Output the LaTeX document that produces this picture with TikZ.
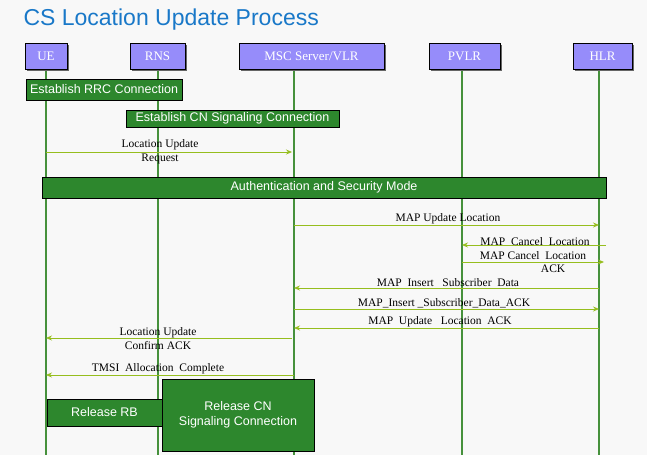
\documentclass[tikz,border=0pt]{standalone}
\usepackage{fontspec}
\setmainfont{Liberation Serif}
\setsansfont{Liberation Sans}
\begin{document}
\begin{tikzpicture}[x=1pt,y=-1pt,
  hdr/.style={draw=black,fill=hdrc,minimum height=26pt,inner sep=0pt,font=\rmfamily\fontsize{13}{12}\selectfont,text=white},
  gbox/.style={draw=black,fill=boxg,inner sep=0pt,font=\sffamily\fontsize{12.5}{15}\selectfont,text=white,align=center},
  life/.style={draw=lifeg,line width=1.3pt},
  msg/.style={draw=arrg,line width=0.8pt,-{Stealth[length=6pt,width=5pt]}},
  lbl/.style={font=\rmfamily\fontsize{11.5}{12}\selectfont,align=center,inner sep=0pt}]
\usetikzlibrary{arrows.meta}
\definecolor{hdrc}{RGB}{150,140,250}
\definecolor{boxg}{RGB}{45,135,45}
\definecolor{lifeg}{RGB}{70,145,60}
\definecolor{arrg}{RGB}{150,190,30}
\definecolor{bg}{RGB}{248,248,248}
\definecolor{ttl}{RGB}{25,120,200}
\fill[bg] (0,0) rectangle (647,455);
\useasboundingbox (0,0) rectangle (647,455);
\node[anchor=west,text=ttl,font=\sffamily\fontsize{23}{23}\selectfont] (title) at (20,20) {CS Location Update Process};
% lifelines
\foreach \n/\x in {ue/46,rns/158,msc/294,pvlr/462,hlr/599}{
  \coordinate (\n top) at (\x,69); \coordinate (\n bot) at (\x,455);
  \draw[life] (\n top) -- (\n bot);}
% headers
\foreach \n/\a/\b/\t in {ue/25/67/UE,rns/130/185/RNS,msc/239/384/{MSC Server/VLR},pvlr/429/500/PVLR,hlr/573/632/HLR}{
  \fill[black!60] (\a+2,45) rectangle (\b+2,71);
  \node[hdr,minimum width=\b-\a] (h\n) at ({(\a+\b)/2},56) {\t};}
% boxes
\node[gbox,minimum width=156,minimum height=21] (rrc) at (104,89.5) {Establish RRC Connection};
\node[gbox,minimum width=213,minimum height=17] (cn) at (232.5,118.5) {Establish CN Signaling Connection};
\node[gbox,minimum width=564,minimum height=21] (auth) at (324,187.5) {Authentication and Security Mode};
\node[gbox,minimum width=115,minimum height=27] (rb) at (104.5,412.5) {Release RB};
\node[gbox,minimum width=152,minimum height=72] (rcn) at (238,415) {Release CN\\Signaling Connection};
% messages
\coordinate (a1s) at (46,152); \coordinate (a1e) at (292,152);
\draw[msg] (a1s) -- (a1e);
\node[lbl] (l1) at (160,152) {Location Update\\[2pt]Request};
\coordinate (a2s) at (294,225); \coordinate (a2e) at (599,225);
\draw[msg] (a2s) -- (a2e); \node[lbl,anchor=south] (l2) at (448,224) {MAP Update Location};
\coordinate (a3s) at (606,245); \coordinate (a3e) at (462,245);
\draw[msg] (a3s) -- (a3e); \node[lbl,anchor=south] (l3) at (535,246) {MAP\ \ Cancel\ \ Location};
\coordinate (a4s) at (462,262); \coordinate (a4e) at (604,262);
\draw[msg] (a4s) -- (a4e); \node[lbl] (l4) at (533,262) {MAP Cancel\ \ Location\\[1pt]\hspace*{3.5em}ACK};
\coordinate (a5s) at (599,288); \coordinate (a5e) at (294,288);
\draw[msg] (a5s) -- (a5e); \node[lbl,anchor=south] (l5) at (448,287) {MAP\ \ Insert\ \ \ Subscriber\ \ Data};
\coordinate (a6s) at (294,309); \coordinate (a6e) at (599,309);
\draw[msg] (a6s) -- (a6e); \node[lbl,anchor=south] (l6) at (444,308) {MAP\_Insert\ \_Subscriber\_Data\_ACK};
\coordinate (a7s) at (599,328); \coordinate (a7e) at (294,328);
\draw[msg] (a7s) -- (a7e); \node[lbl,anchor=south] (l7) at (440,327) {MAP\ \ Update\ \ \ Location\ \ ACK};
\coordinate (a8s) at (292,338); \coordinate (a8e) at (46,338);
\draw[msg] (a8s) -- (a8e); \node[lbl] (l8) at (158,339) {Location Update\\[2pt]Confirm ACK};
\coordinate (a9s) at (294,375); \coordinate (a9e) at (46,375);
\draw[msg] (a9s) -- (a9e); \node[lbl,anchor=south] (l9) at (158,374) {TMSI\ \ Allocation\ \ Complete};
\end{tikzpicture}
\end{document}
